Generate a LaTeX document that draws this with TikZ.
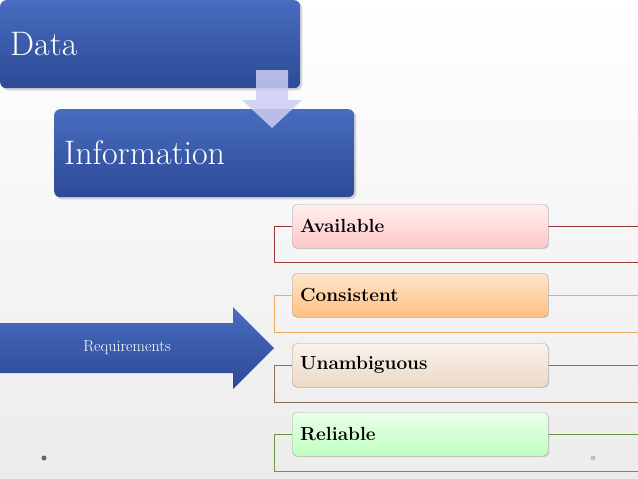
\documentclass[tikz,border=0pt]{standalone}
\usetikzlibrary{shadows}
\definecolor{btop}{RGB}{72,108,190}
\definecolor{bbot}{RGB}{44,74,150}
\definecolor{cA}{RGB}{150,60,60}
\definecolor{cC}{RGB}{240,170,100}
\definecolor{cU}{RGB}{140,110,90}
\definecolor{cR}{RGB}{110,150,70}
\begin{document}
\begin{tikzpicture}[x=1pt,y=-1pt,
  bigbox/.style={draw=none,rounded corners=6pt,top color=btop,bottom color=bbot,text=white,font=\fontsize{34}{36}\selectfont,anchor=north west,inner sep=10pt,drop shadow={opacity=0.3}},
  req/.style={draw=gray!70,rounded corners=5pt,minimum width=256pt,minimum height=44pt,anchor=north west,text width=240pt,align=left,inner sep=8pt,font=\bfseries\fontsize{19}{21}\selectfont,drop shadow={opacity=0.25,shadow xshift=1pt,shadow yshift=-1pt}},
  brk/.style={line width=0.6pt}]
\shade[top color=white,bottom color=gray!15] (0,0) rectangle (638,479);
\useasboundingbox (0,0) rectangle (638,479);
\node[bigbox,minimum width=300pt,minimum height=88pt,text width=280pt,align=left] (data) at (0,0) {Data};
\node[bigbox,minimum width=300pt,minimum height=88pt,text width=280pt,align=left] (info) at (54,109) {Information};
\path[fill=gray!40!blue!25,opacity=0.85] (256,70) -- (288,70) -- (288,100) -- (302,100) -- (272,128) -- (242,100) -- (256,100) -- cycle;
\shade[top color=btop,bottom color=bbot] (0,323) -- (233,323) -- (233,307) -- (274,348) -- (233,389) -- (233,373) -- (0,373) -- cycle;
\node[text=white,font=\fontsize{16}{18}\selectfont] (rq) at (127,348) {Requirements};
\draw[brk,cA] (292,226) -- (274,226) -- (274,262) -- (638,262) (548,226) -- (638,226);
\draw[brk,cC] (292,295) -- (274,295) -- (274,332) -- (638,332) (548,295) -- (638,295);
\draw[brk,cU] (292,365) -- (274,365) -- (274,402) -- (638,402) (548,365) -- (638,365);
\draw[brk,cR] (292,434) -- (274,434) -- (274,471) -- (638,471) (548,434) -- (638,434);
\node[req,top color=red!6,bottom color=red!22] (a) at (292,204) {Available};
\node[req,top color=orange!20,bottom color=orange!50] (c) at (292,273) {Consistent};
\node[req,top color=brown!10,bottom color=brown!30] (u) at (292,343) {Unambiguous};
\node[req,top color=green!8,bottom color=green!25] (r) at (292,412) {Reliable};
\fill[gray!80!black] (44,458) circle (2.5pt);
\fill[gray!50] (593,458) circle (2.5pt);
\end{tikzpicture}
\end{document}
